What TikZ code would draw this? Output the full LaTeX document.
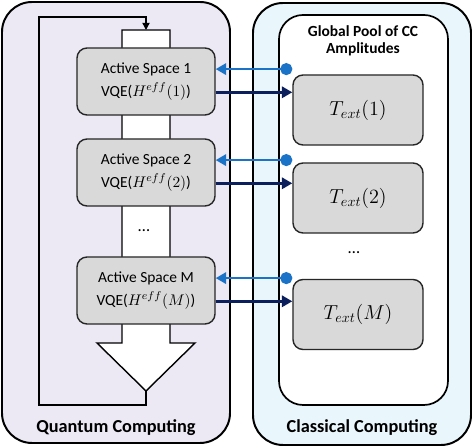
\documentclass[tikz,border=0pt]{standalone}
\usepackage{fontspec}
\setmainfont{Carlito}
\usetikzlibrary{arrows.meta,positioning}
\definecolor{qcpanel}{HTML}{ECE8F4}
\definecolor{ccpanel}{HTML}{E9F6FC}
\definecolor{qcgray}{HTML}{D9D9D9}
\definecolor{qcblue}{HTML}{1A73C6}
\definecolor{qcnavy}{HTML}{0A1F5C}
\definecolor{qcedge}{HTML}{262626}
\tikzstyle{panel}=[draw=black,line width=1.4pt,rounded corners=0.75cm]
\tikzstyle{asbox}=[draw=qcedge,fill=qcgray,rounded corners=0.25cm,line width=1pt,
  minimum width=3.45cm,minimum height=1.675cm,align=center,font=\fontsize{11}{16}\selectfont]
\tikzstyle{tbox}=[draw=qcedge,fill=qcgray,rounded corners=0.25cm,line width=1pt,
  minimum width=3.25cm,minimum height=1.75cm,font=\fontsize{14.5}{17}\selectfont]
\tikzstyle{pull}=[draw=qcblue,line width=2pt,{Circle[length=3mm,fill=qcblue]}-{Triangle[length=2.6mm,width=2.8mm,fill=qcblue]}]
\tikzstyle{push}=[draw=qcnavy,line width=2pt,-{Triangle[length=2.6mm,width=2.8mm,fill=qcnavy]}]
\tikzstyle{paneltitle}=[font=\bfseries\fontsize{13}{15}\selectfont]

\begin{document}
\begin{tikzpicture}
    \useasboundingbox (0,0) rectangle (11.85,11.175);
    % panels
    \draw[panel,fill=qcpanel] (0.05,0.1) rectangle (5.75,11.125);
    \draw[panel,fill=ccpanel] (6.325,0.05) rectangle (11.775,11.1);
    \draw[line width=1.2pt,fill=white,rounded corners=0.6cm] (6.975,1.05) rectangle (11.2,10.8);
    % big arrow through the active spaces
    \draw[line width=1pt,fill=white] (3.05,10.425) -- (4.25,10.425) -- (4.25,2.6) -- (4.875,2.6)
      -- (3.65,1.4) -- (2.425,2.6) -- (3.05,2.6) -- cycle;
    \coordinate (tip) at (3.65,1.4);
    \coordinate (top) at (3.65,10.425);
    \draw[line width=1pt,-{Triangle[length=1.8mm,width=1.8mm]}] (tip) -- ++(0,-0.35) -| (0.975,10.75) -| (top);

    \node[asbox] (as1) at (3.65,9.1375) {Active Space 1\\VQE($H^{eff}(1)$)};
    \node[asbox] (as2) at (3.65,6.8625) {Active Space 2\\VQE($H^{eff}(2)$)};
    \node[asbox] (asm) at (3.65,3.9125) {Active Space M\\VQE($H^{eff}(M)$)};
    \node[font=\fontsize{12}{13}\selectfont] (asdots) at (3.6,5.4) {\dots};

    \node[font=\bfseries\fontsize{11}{12}\selectfont,align=center] (pool) at (9.075,10.16) {Global Pool of CC\\Amplitudes};
    \node[tbox] (t1) at (8.95,8.425) {$T_{ext}(1)$};
    \node[tbox] (t2) at (8.95,6.225) {$T_{ext}(2)$};
    \node[tbox] (tm) at (8.95,3.3125) {$T_{ext}(M)$};
    \node[font=\fontsize{12}{13}\selectfont] (tdots) at (8.85,4.85) {\dots};

    \node[paneltitle] (qlabel) at (2.9,0.475) {Quantum Computing};
    \node[paneltitle] (clabel) at (9.05,0.475) {Classical Computing};

    \foreach \a/\t in {as1/t1,as2/t2,asm/tm}{
      \draw[pull] ([yshift=3.1mm]\t.west |- \a.east) -- ([yshift=3.1mm]\a.east);
      \draw[push] ([yshift=-2.7mm]\a.east) -- ([yshift=-2.7mm]\t.west |- \a.east);
    }
\end{tikzpicture}
\end{document}
